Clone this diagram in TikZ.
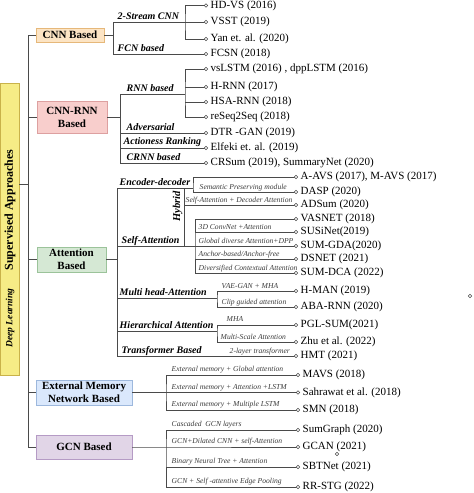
\documentclass[tikz,border=0pt]{standalone}
\usepackage{fontspec}
\setmainfont{Liberation Serif}
\definecolor{linegray}{HTML}{4A4A4A}
\definecolor{notegray}{HTML}{3A3A3A}
\definecolor{supfill}{HTML}{F6EC86}
\definecolor{supline}{HTML}{C9B24A}
\definecolor{cnnfill}{HTML}{FCE4C4}
\definecolor{cnnline}{HTML}{E6B87A}
\definecolor{rnnfill}{HTML}{F8CECC}
\definecolor{rnnline}{HTML}{DDA0A0}
\definecolor{attfill}{HTML}{D5E8D4}
\definecolor{attline}{HTML}{9BC39A}
\definecolor{extfill}{HTML}{DAE8FC}
\definecolor{extline}{HTML}{9DB8DD}
\definecolor{gcnfill}{HTML}{E1D5E7}
\definecolor{gcnline}{HTML}{B59BC5}
\tikzset{
  cat/.style={draw, line width=0.6pt, align=center, inner sep=1pt,
    font=\fontsize{11}{13}\selectfont\bfseries},
  leaf/.style={anchor=west, inner xsep=4.5pt, inner ysep=1pt,
    font=\fontsize{11}{12}\selectfont},
  sub/.style={anchor=base west, inner sep=0.5pt,
    font=\fontsize{10}{11}\selectfont\bfseries\itshape},
  note/.style={anchor=base west, inner sep=0.5pt, text=notegray,
    font=\fontsize{7.6}{9}\selectfont\itshape},
  dot/.style={circle, draw=linegray, fill=white, line width=0.5pt,
    inner sep=0pt, minimum size=3.6pt},
  br/.style={draw=linegray, line width=0.75pt},
}
\begin{document}
\begin{tikzpicture}[x=1pt, y=-1pt]
  \useasboundingbox (0,0) rectangle (474,493);

  \node[draw=supline, fill=supfill, line width=0.6pt, minimum width=19pt,
    minimum height=292pt, inner sep=0pt] (sup) at (9.5,229) {};
  \node[rotate=90, font=\fontsize{12}{13}\selectfont\bfseries] (suptxt) at (10,210) {Supervised Approaches};
  \node[rotate=90, font=\fontsize{9.5}{11}\selectfont\bfseries\itshape] (dltxt) at (10,318) {Deep Learning};

  \node[cat, fill=cnnfill, draw=cnnline, minimum width=68pt, minimum height=14pt] (cnn) at (70,35) {CNN Based};
  \node[cat, fill=rnnfill, draw=rnnline, minimum width=70pt, minimum height=32pt] (cnnrnn) at (72,117) {CNN-RNN\\Based};
  \node[cat, fill=attfill, draw=attline, minimum width=69pt, minimum height=25pt] (att) at (71.5,259.5) {Attention\\Based};
  \node[cat, fill=extfill, draw=extline, minimum width=96pt, minimum height=25pt] (ext) at (84,392.5) {External Memory\\Network Based};
  \node[cat, fill=gcnfill, draw=gcnline, minimum width=96pt, minimum height=24pt] (gcn) at (84,447) {GCN Based};

  \coordinate (k1) at (28,35);
  \coordinate (k2) at (28,447);
  \coordinate (k3) at (28,184);
  \draw[br] (cnn.west) -- (k1) -- (k2) -- (gcn.west);
  \draw[br] (k3 -| sup.east) -- (k3);
  \draw[br] (k1 |- cnnrnn) -- (cnnrnn.west);
  \draw[br] (k1 |- att) -- (att.west);
  \draw[br] (k1 |- ext) -- (ext.west);

  % CNN based
  \node[leaf] (hdvs) at (206,5.5) {HD-VS (2016)};
  \node[leaf] (vsst) at (206,22) {VSST (2019)};
  \node[leaf] (yan) at (206,39) {Yan et. al. (2020)};
  \node[leaf] (fcsn) at (206,54) {FCSN (2018)};
  \coordinate (ca) at (113,22);
  \coordinate (cb) at (113,54);
  \coordinate (s2) at (185,22);
  \draw[br] (cnn.east) -- (ca |- cnn);
  \draw[br] (s2) -- (ca) -- (cb) -- (fcsn.west);
  \draw[br] (hdvs.west) -| (s2) |- (yan.west);
  \draw[br] (s2) -- (vsst.west);
  \node[sub] (l2s) at (117,19.5) {2-Stream CNN};
  \node[sub] (lfcn) at (117,51.5) {FCN based};

  % CNN-RNN based
  \node[leaf] (vslstm) at (206,69) {vsLSTM (2016) , dppLSTM (2016)};
  \node[leaf] (hrnn) at (206,87) {H-RNN (2017)};
  \node[leaf] (hsarnn) at (206,102) {HSA-RNN (2018)};
  \node[leaf] (reseq) at (206,117) {reSeq2Seq (2018)};
  \node[leaf] (dtr) at (206,133) {DTR -GAN (2019)};
  \node[leaf] (elfeki) at (206,148) {Elfeki et. al. (2019)};
  \node[leaf] (crsum) at (206,163) {CRSum (2019), SummaryNet (2020)};
  \coordinate (ra) at (120,94);
  \coordinate (rb) at (120,163);
  \coordinate (s3) at (185,94);
  \draw[br] (cnnrnn.east) -- (ra |- cnnrnn);
  \draw[br] (s3) -- (ra) -- (rb) -- (crsum.west);
  \draw[br] (vslstm.west) -| (s3) |- (reseq.west);
  \draw[br] (s3 |- hrnn) -- (hrnn.west);
  \draw[br] (s3 |- hsarnn) -- (hsarnn.west);
  \draw[br] (ra |- dtr) -- (dtr.west);
  \draw[br] (ra |- elfeki) -- (elfeki.west);
  \node[sub] (lrnn) at (126,91.5) {RNN based};
  \node[sub] (ladv) at (126,130.5) {Adversarial};
  \node[sub] (lact) at (123,144.5) {Actioness Ranking};
  \node[sub] (lcrnn) at (126,160.5) {CRNN based};

  % Attention based
  \node[leaf] (aavs) at (296,177) {A-AVS (2017), M-AVS (2017)};
  \node[leaf] (dasp) at (296,192) {DASP (2020)};
  \node[leaf] (adsum) at (296,205) {ADSum (2020)};
  \node[leaf] (vasnet) at (296,219) {VASNET (2018)};
  \node[leaf] (susinet) at (296,232) {SUSiNet(2019)};
  \node[leaf] (sumgda) at (296,246) {SUM-GDA(2020)};
  \node[leaf] (dsnet) at (296,259) {DSNET (2021)};
  \node[leaf] (sumdca) at (296,273) {SUM-DCA (2022)};
  \node[leaf] (hman) at (296,291) {H-MAN (2019)};
  \node[leaf] (abarnn) at (296,307) {ABA-RNN (2020)};
  \node[leaf] (pglsum) at (296,325) {PGL-SUM(2021)};
  \node[leaf] (zhu) at (296,342) {Zhu et al. (2022)};
  \node[leaf] (hmt) at (296,356) {HMT (2021)};
  \coordinate (ta) at (117,188);
  \coordinate (tb) at (117,356);
  \coordinate (e1) at (193,188);
  \coordinate (h1) at (184,188);
  \coordinate (h2) at (184,246);
  \coordinate (sa) at (195,246);
  \coordinate (m1) at (217,298);
  \coordinate (m2) at (217,331);
  \draw[br] (att.east) -- (ta |- att);
  \draw[br] (e1) -- (ta) -- (tb) -- (hmt.west);
  \draw[br] (aavs.west) -| (e1) |- (dasp.west);
  \draw[br] (h1) -- (h2);
  \draw[br] (h1 |- adsum) -- (adsum.west);
  \draw[br] (ta |- sa) -- (sa);
  \draw[br] (vasnet.west) -| (sa) |- (sumdca.west);
  \draw[br] (sa |- susinet) -- (susinet.west);
  \draw[br] (sa) -- (sumgda.west);
  \draw[br] (sa |- dsnet) -- (dsnet.west);
  \draw[br] (ta |- m1) -- (m1);
  \draw[br] (hman.west) -| (m1) |- (abarnn.west);
  \draw[br] (ta |- m2) -- (m2);
  \draw[br] (pglsum.west) -| (m2) |- (zhu.west);
  \node[sub] (lenc) at (119,185.5) {Encoder-decoder};
  \node[sub] (lsa) at (121,243.5) {Self-Attention};
  \node[sub] (lmh) at (119,295.5) {Multi head-Attention};
  \node[sub] (lhier) at (119,328.5) {Hierarchical Attention};
  \node[sub] (ltr) at (121,353.5) {Transformer Based};
  \node[rotate=90, font=\fontsize{10.5}{12}\selectfont\bfseries\itshape] (lhyb) at (177.5,206) {Hybrid};
  \node[note] (nsem) at (199,189.5) {Semantic Preserving module};
  \node[note] (nsda) at (185,202.5) {Self-Attention + Decoder Attention};
  \node[note] (n3d) at (198,229) {3D ConvNet +Attention};
  \node[note] (ngda) at (198,243.5) {Global diverse Attention+DPP};
  \node[note] (nanc) at (198,256.5) {Anchor-based/Anchor-free};
  \node[note] (ndca) at (198,270.5) {Diversified Contextual Attention};
  \node[note] (nvae) at (221,288.5) {VAE-GAN + MHA};
  \node[note] (nclip) at (221,304.5) {Clip guided attention};
  \node[note] (nmha) at (226,321.5) {MHA};
  \node[note] (nmsa) at (220,339.5) {Multi-Scale Attention};
  \node[note] (n2l) at (229,353.5) {2-layer transformer};

  % External memory
  \node[leaf] (mavs) at (298,375) {MAVS (2018)};
  \node[leaf] (sahrawat) at (298,392.5) {Sahrawat et al. (2018)};
  \node[leaf] (smn) at (298,410) {SMN (2018)};
  \coordinate (x0) at (166,392.5);
  \draw[br] (ext.east) -- (x0) -- (sahrawat.west);
  \draw[br] (mavs.west) -| (x0) |- (smn.west);
  \node[note] (nm1) at (171,371.5) {External memory + Global attention};
  \node[note] (nm2) at (171,389) {External memory + Attention +LSTM};
  \node[note] (nm3) at (171,406.5) {External memory + Multiple LSTM};

  % GCN
  \node[leaf] (sumgraph) at (298,430) {SumGraph (2020)};
  \node[leaf] (gcan) at (298,447) {GCAN (2021)};
  \node[leaf] (sbtnet) at (298,467) {SBTNet (2021)};
  \node[leaf] (rrstg) at (298,487) {RR-STG (2022)};
  \coordinate (g0) at (166,447);
  \draw[br] (gcn.east) -- (g0) -- (gcan.west);
  \draw[br] (sumgraph.west) -| (g0) |- (rrstg.west);
  \draw[br] (g0 |- sbtnet) -- (sbtnet.west);
  \node[note] (ng1) at (171,426.5) {Cascaded\ \ GCN layers};
  \node[note] (ng2) at (171,443.5) {GCN+Dilated CNN + self-Attention};
  \node[note] (ng3) at (171,463.5) {Binary Neural Tree + Attention};
  \node[note] (ng4) at (171,483.5) {GCN + Self -attentive Edge Pooling};

  \foreach \n in {hdvs,vsst,yan,fcsn,vslstm,hrnn,hsarnn,reseq,dtr,elfeki,crsum,
    aavs,dasp,adsum,vasnet,susinet,sumgda,dsnet,sumdca,hman,abarnn,pglsum,zhu,hmt,
    mavs,sahrawat,smn,sumgraph,gcan,sbtnet,rrstg}
    \node[dot] (\n-o) at (\n.west) {};
  \node[dot] (stray1) at (470,296) {};
  \node[dot] (stray2) at (337,454) {};
\end{tikzpicture}
\end{document}
